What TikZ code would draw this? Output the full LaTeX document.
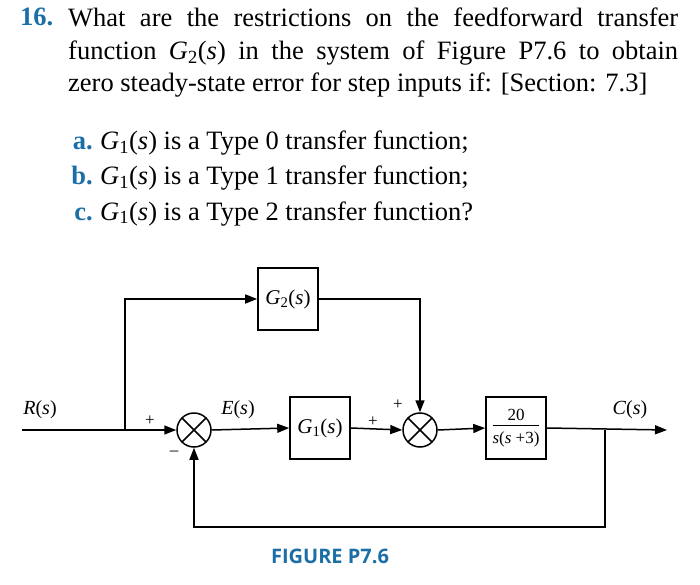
\documentclass[tikz,border=0pt]{standalone}
\usepackage{fontspec}
\setmainfont{Liberation Serif}
\newfontfamily\capfont{Open Sans}
\usetikzlibrary{arrows.meta}
\definecolor{qblue}{HTML}{1C6FA6}
\newcommand{\vi}[1]{\textit{#1}}
\newcommand{\Gs}[1]{\textit{G}\textsubscript{#1}(\textit{s})}
\begin{document}
\begin{tikzpicture}[x=1pt,y=-1pt,
  blk/.style={draw,line width=1.6pt,minimum width=60pt,minimum height=62pt,inner sep=0pt},
  sumj/.style={draw,line width=1.5pt,circle,minimum size=34pt,inner sep=0pt,path picture={\draw[line width=1.5pt] (path picture bounding box.north west)--(path picture bounding box.south east) (path picture bounding box.north east)--(path picture bounding box.south west);}},
  wire/.style={line width=1.5pt},
  arr/.style={wire,-{Triangle[length=12pt,width=9pt]}},
  lab/.style={font=\fontsize{20}{24}\selectfont,inner sep=0pt},
  sgn/.style={font=\fontsize{17}{19}\selectfont,inner sep=0pt}]
\useasboundingbox (0,0) rectangle (700,585);
\node[anchor=north west,inner sep=0pt,text width=610pt,align=justify,font=\fontsize{26.5}{32.5}\selectfont] (p) at (68,8)
 {What are the restrictions on the feedforward transfer\linebreak function \Gs{2} in the system of Figure P7.6 to obtain\linebreak zero steady-state error for step inputs if: [Section: 7.3]};
\node[anchor=north west,inner sep=0pt,font=\fontsize{26.5}{32.5}\bfseries,text=qblue] (n) at (20,8) {16.};
\foreach \l/\t/\y in {a/0/150,b/1/185,c/2/220}{
 \node[anchor=base east,inner sep=0pt,font=\fontsize{26.5}{30}\bfseries,text=qblue] (i\l) at (93,\y) {\l.};
 \node[anchor=base west,inner sep=0pt,font=\fontsize{26.5}{30}\selectfont] (t\l) at (100,\y) {\Gs{1} is a Type \t\ transfer function\ifnum\t=2 ?\else;\fi};
}
% diagram
\coordinate (in) at (22,430);
\coordinate (br) at (125,430);
\coordinate (tk) at (605,430);
\coordinate (out) at (667,430);
\node[sumj] (s1) at (194,430) {};
\node[sumj] (s2) at (420,430) {};
\node[blk] (g1) at (320,428) {\fontsize{21}{24}\selectfont\Gs{1}};
\node[blk] (g2) at (288,299) {\fontsize{21}{24}\selectfont\Gs{2}};
\node[blk] (pl) at (516,428) {\fontsize{17}{19}\selectfont\begin{tabular}{@{}c@{}}20\\[-1pt]\hline\rule{0pt}{18pt}\vi{s}(\vi{s} +3)\end{tabular}};
\draw[wire] (in) -- (br);
\draw[arr] (br) -- (s1.west);
\draw[arr] (br) |- (g2.west);
\draw[arr] (g2.east) -| (s2.north);
\draw[arr] (s1.east) -- (g1.west);
\draw[arr] (g1.east) -- (s2.west);
\draw[arr] (s2.east) -- (pl.west);
\draw[arr] (pl.east) -- (out);
\draw[arr] (tk) -- (605,527) -| (s1.south);
\node[lab] (lr) at (40,410) {\vi{R}(\vi{s})};
\node[lab] (le) at (238,410) {\vi{E}(\vi{s})};
\node[lab] (lc) at (630,410) {\vi{C}(\vi{s})};
\node[sgn] (p1) at (150,421) {+};
\node[sgn] (m1) at (174,453) {–};
\node[sgn] (p2) at (373,422) {+};
\node[sgn] (p3) at (398,405) {+};
\node[inner sep=0pt,font=\capfont\fontsize{20}{22}\bfseries,text=qblue] (cap) at (330,556) {FIGURE P7.6};
\end{tikzpicture}
\end{document}
